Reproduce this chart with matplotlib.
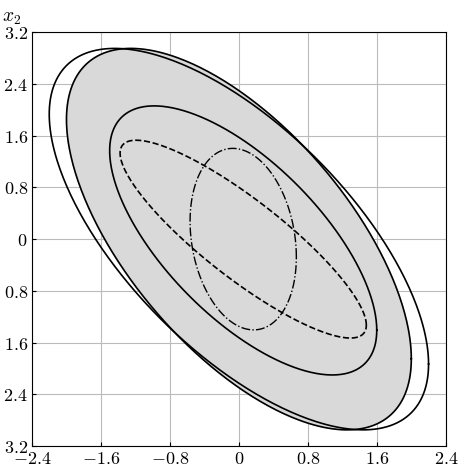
import numpy as np
import matplotlib
matplotlib.use("Agg")
import matplotlib.pyplot as plt
plt.rcParams['mathtext.fontset'] = 'cm'

# ellipse shape matrices (Q11, Q12, Q22) and centers
outer_Q = [4.84, -4.25, 8.7]
gray_Q = [4.0, -3.7, 8.7]
mid_Q = [2.4, -2.15, 4.33]
mid_c = [0.05, -0.02]
dash_Q = [2.04, -1.9, 2.34]
dash_c = [0.05, 0.0]
dashdot_Q = [0.38, -0.17, 1.97]
dashdot_c = [0.05, 0.0]
xticks = [-2.4, -1.6, -0.8, 0, 0.8, 1.6, 2.4]
yticks = [-3.2, -2.4, -1.6, -0.8, 0, 0.8, 1.6, 2.4, 3.2]
ylabels = ['3.2', '2.4', '1.6', '0.8', '0', '0.8', '1.6', '2.4', '3.2']

def ell(Q, c=(0, 0)):
    M = np.array([[Q[0], Q[1]], [Q[1], Q[2]]])
    L = np.linalg.cholesky(M)
    t = np.linspace(0, 2*np.pi, 400)
    p = L @ np.vstack([np.cos(t), np.sin(t)])
    return p[0]+c[0], p[1]+c[1]

fig = plt.figure(figsize=(4.74, 4.74), dpi=100)
ax = fig.add_axes([0.0675, 0.059, 0.873, 0.873])
x, y = ell(gray_Q); ax.fill(x, y, color='#d9d9d9', zorder=1); ax.plot(x, y, 'k', lw=1.2, zorder=3)
x, y = ell(outer_Q); ax.plot(x, y, 'k', lw=1.2, zorder=3)
x, y = ell(mid_Q, mid_c); ax.plot(x, y, 'k', lw=1.2, zorder=3)
x, y = ell(dash_Q, dash_c); ax.plot(x, y, 'k--', lw=1.2, zorder=3)
x, y = ell(dashdot_Q, dashdot_c); ax.plot(x, y, 'k-.', lw=1.0, zorder=3)
ax.set_xlim(-2.4, 2.4); ax.set_ylim(-3.2, 3.2)
ax.set_xticks(xticks); ax.set_xticklabels([f'${v:g}$' if v != 0 else '$0$' for v in xticks], fontsize=13)
ax.set_yticks(yticks); ax.set_yticklabels([f'${s}$' for s in ylabels], fontsize=13)
ax.grid(True, color='#bbbbbb', lw=0.8, zorder=0)
ax.set_axisbelow(True)
ax.tick_params(direction='in', length=3, pad=3)
ax.text(-0.05, 1.035, '$x_2$', transform=ax.transAxes, fontsize=14, ha='center', va='center')
fig.savefig('out.png', dpi=100)
